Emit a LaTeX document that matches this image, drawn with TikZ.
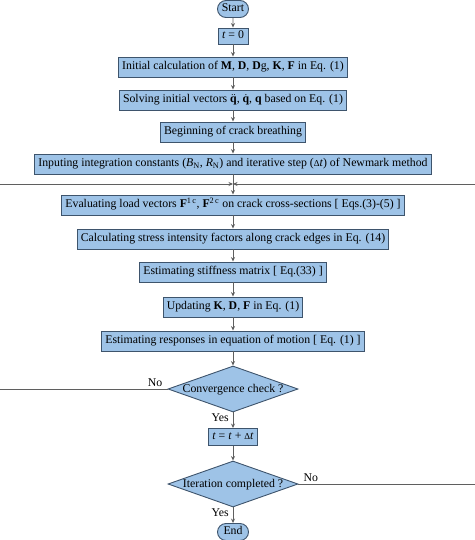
\documentclass[tikz,border=0pt]{standalone}
\usepackage{fontspec}
\setmainfont{Liberation Serif}
\usetikzlibrary{shapes.geometric,shapes.misc,arrows.meta,calc}
\definecolor{boxblue}{RGB}{158,195,231}
\definecolor{boxline}{RGB}{62,84,108}
\definecolor{flowgrey}{RGB}{95,95,95}
\tikzset{
  procbox/.style={
    draw = boxline,
    fill = boxblue,
    line width = 0.9pt,
    inner xsep = 3.5pt,
    inner ysep = 0pt,
    minimum height = 20pt,
    text height = 8.5pt,
    text depth = 2.8pt,
    font = \fontsize{11.8}{14}\selectfont
  },
  termin/.style={
    procbox,
    shape = rounded rectangle,
    minimum height = 17pt,
    minimum width = 33pt,
    inner xsep = 1pt
  },
  decis/.style={
    procbox,
    shape = diamond,
    aspect = 2.8,
    inner sep = 0pt,
    text height = 7pt,
    text depth = 1pt,
    minimum width = 130pt,
    minimum height = 46pt
  },
  flow/.style={
    draw = flowgrey,
    line width = 0.8pt,
    -{Stealth[length=4.5pt,width=4pt]}
  },
  plain/.style={
    draw = flowgrey,
    line width = 0.8pt
  },
  lbl/.style={
    inner sep = 1pt,
    font = \fontsize{11.8}{14}\selectfont
  }
}
\newcommand{\vb}[1]{\textbf{#1}}

\begin{document}
\begin{tikzpicture}[x=1pt,y=-1pt]
  \useasboundingbox (0,0) rectangle (474,540);

  % main column
  \node[termin] (start) at (233,9) {Start};
  \node[procbox, minimum height=16pt, minimum width=30pt, inner xsep=2pt] (tzero) at (233,36) {\textit{t} = 0};
  \node[procbox] (init) at (233,67) {Initial calculation of \vb{M}, \vb{D}, \vb{D}g, \vb{K}, \vb{F} in Eq. (1)};
  \node[procbox] (solve) at (233,100) {Solving initial vectors $\ddot{\vb{q}}$, $\dot{\vb{q}}$, \vb{q} based on Eq. (1)};
  \node[procbox] (crack) at (233,132) {Beginning of crack breathing};
  \node[procbox] (consts) at (233,164) {Inputing integration constants (\textit{B}\textsubscript{N}, \textit{R}\textsubscript{N}) and iterative step ({\small Δ}\textit{t}) of Newmark method};
  \coordinate (join) at (233,184);
  \node[procbox] (loads) at (233,205) {Evaluating load vectors \vb{F}\textsuperscript{1\,c}, \vb{F}\textsuperscript{2\,c} on crack cross-sections [ Eqs.(3)-(5) ]};
  \node[procbox] (sif) at (233,239) {Calculating stress intensity factors along crack edges in Eq. (14)};
  \node[procbox] (stiff) at (233,272) {Estimating stiffness matrix [ Eq.(33) ]};
  \node[procbox] (update) at (233,307) {Updating \vb{K}, \vb{D}, \vb{F} in Eq. (1)};
  \node[procbox] (resp) at (233,341) {Estimating responses in equation of motion [ Eq. (1) ]};
  \node[decis] (conv) at (233,389) {Convergence check ?};
  \node[procbox, minimum height=17pt, minimum width=49pt, inner xsep=1.5pt] (tstep) at (233,437) {\textit{t} = \textit{t} + {\small Δ}\textit{t}};
  \node[decis] (iter) at (233,484) {Iteration completed ?};
  \node[termin] (finish) at (233,532) {End};

  % connectors
  \draw[flow] (start) -- (tzero);
  \draw[flow] (tzero) -- (init);
  \draw[flow] (init) -- (solve);
  \draw[flow] (solve) -- (crack);
  \draw[flow] (crack) -- (consts);
  \draw[plain] (consts) -- (join);
  \draw[flow] (join) -- (loads);
  \draw[flow] (loads) -- (sif);
  \draw[flow] (sif) -- (stiff);
  \draw[flow] (stiff) -- (update);
  \draw[flow] (update) -- (resp);
  \draw[flow] (resp) -- (conv);
  \draw[flow] (conv) -- (tstep);
  \draw[flow] (tstep) -- (iter);
  \draw[flow] (iter) -- (finish);

  % loops back (run off the page edges)
  \draw[flow] (conv.west) -- (-10,389) |- (join);
  \draw[flow] (iter.east) -- (484,484) |- (join);

  % branch labels
  \node[lbl, anchor=south east] (noconv) at ([xshift=-4pt,yshift=1pt]conv.west) {No};
  \node[lbl, anchor=north east] (yesconv) at ([xshift=-3pt]conv.south) {Yes};
  \node[lbl, anchor=south west] (noiter) at ([xshift=4pt,yshift=1pt]iter.east) {No};
  \node[lbl, anchor=north east] (yesiter) at ([xshift=-3pt]iter.south) {Yes};
\end{tikzpicture}
\end{document}
